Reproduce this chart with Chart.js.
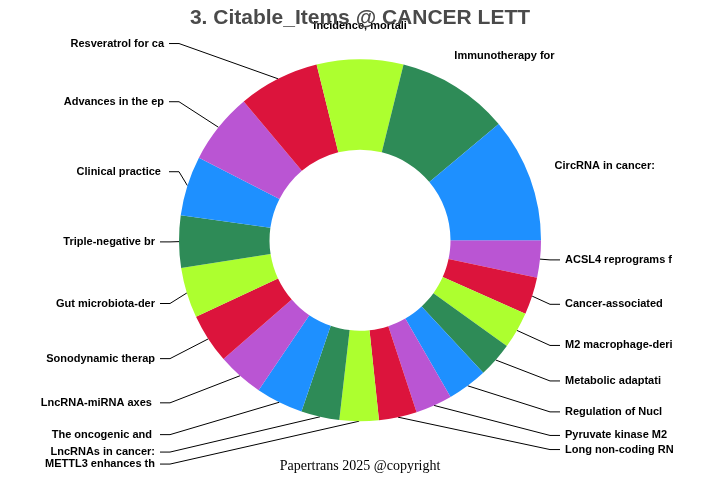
<!DOCTYPE html>
<html>
<head>
<meta charset="utf-8">
<script src="https://cdn.jsdelivr.net/npm/chart.js@4.4.1/dist/chart.umd.min.js"></script>
<style>
    html, body { margin: 0; padding: 0; background: #ffffff; }
    #wrap { width: 720px; height: 480px; }
</style>
</head>
<body>
<div id="wrap"><canvas id="chart"></canvas></div>
<script>
// paper titles (cut to 18 chars, as in the chart), biggest first
let paper_titles = [
    'CircRNA in cancer:', 'Immunotherapy for ', 'Incidence, mortali', 'Resveratrol for ca',
    'Advances in the ep', 'Clinical practice ', 'Triple-negative br', 'Gut microbiota-der',
    'Sonodynamic therap', 'LncRNA-miRNA axes ', 'The oncogenic and ', 'LncRNAs in cancer:',
    'METTL3 enhances th', 'Long non-coding RN', 'Pyruvate kinase M2', 'Regulation of Nucl',
    'Metabolic adaptati', 'M2 macrophage-deri', 'Cancer-associated ', 'ACSL4 reprograms f'
]
let citable_items = [
    40.0, 36.1, 27.8, 26.1,
    22.9, 19.2, 16.8, 16.2,
    16.0, 14.9, 15.2, 12.3,
    12.6, 12.2, 11.8, 12.9,
    11.3, 11.8, 12.0, 12.0
]
let palette = ['#1E90FF', '#2E8B57', '#ADFF2F', '#DC143C', '#BA55D3']

let chart_title = '3. Citable_Items @ CANCER LETT'
let footer_text = 'Papertrans 2025 @copyright'

// slices run counter-clockwise from 3 o'clock in the original,
// chart.js goes clockwise, so feed them in reverse
let slice_colors = paper_titles.map((t, i) => palette[i % palette.length])
let chart_labels = paper_titles.slice().reverse()
let chart_values = citable_items.slice().reverse()
let chart_colors = slice_colors.slice().reverse()

const labelFont = 'bold 11px "Liberation Sans", Arial, sans-serif'

// drawn in beforeDraw so the title ends up on top of the 12 o'clock label
const leaderLabels = {
    id: 'leaderLabels',
    beforeDraw(chart) {
        const ctx = chart.ctx;
        const meta = chart.getDatasetMeta(0);
        let left = [], right = [], free = [];
        meta.data.forEach((arc, i) => {
            const p = arc.getProps(['x', 'y', 'startAngle', 'endAngle', 'outerRadius'], true);
            const mid = (p.startAngle + p.endAngle) / 2;
            const cos = Math.cos(mid), sin = Math.sin(mid);
            const item = {
                text: chart.data.labels[i],
                cx: p.x, r: p.outerRadius, sin: sin,
                ex: p.x + p.outerRadius * cos,
                ey: p.y + p.outerRadius * sin,
                lx: p.x + 1.2 * p.outerRadius * cos,
                ly: p.y + 1.2 * p.outerRadius * sin
            };
            if (sin < 0 && Math.abs(cos) < 0.05) {
                // the one at 12 o'clock
                item.align = 'center';
                item.ly += 3;
                free.push(item);
            } else if (cos > 0 && sin < 0) {
                // upper right ones sit without a leader line
                item.align = 'left';
                item.lx = p.x + 1.35 * p.outerRadius * cos - 35;
                free.push(item);
            } else if (cos > 0) {
                item.ly -= 3;
                right.push(item);
            } else {
                if (sin < -0.2) item.ly -= 3;
                left.push(item);
            }
        });

        // keep labels from running into each other
        [left, right].forEach(side => {
            side.sort((a, b) => a.ly - b.ly);
            for (let k = 1; k < side.length; k++) {
                if (side[k].ly < side[k - 1].ly + 12) side[k].ly = side[k - 1].ly + 12;
            }
        });

        ctx.save();
        ctx.font = labelFont;
        ctx.fillStyle = '#000000';
        ctx.strokeStyle = '#000000';
        ctx.lineWidth = 1;
        ctx.textBaseline = 'middle';

        right.forEach(it => {
            ctx.beginPath();
            ctx.moveTo(it.ex, it.ey);
            ctx.lineTo(it.cx + it.r + 9, it.ly);
            ctx.lineTo(it.cx + it.r + 19, it.ly);
            ctx.stroke();
            ctx.textAlign = 'left';
            ctx.fillText(it.text, it.cx + it.r + 24, it.ly);
        });
        left.forEach(it => {
            // the upper left labels sit a bit further in
            const sh = it.sin < -0.2 ? 9 : 0;
            ctx.beginPath();
            ctx.moveTo(it.ex, it.ey);
            ctx.lineTo(it.cx - it.r - 9 + sh, it.ly);
            ctx.lineTo(it.cx - it.r - 19 + sh, it.ly);
            ctx.stroke();
            ctx.textAlign = 'right';
            ctx.fillText(it.text, it.cx - it.r - 24 + sh, it.ly);
        });
        free.forEach(it => {
            ctx.textAlign = it.align;
            ctx.fillText(it.text, it.lx, it.ly);
        });
        ctx.restore();
    }
};

const config = {
    type: 'doughnut',
    data: {
        labels: chart_labels,
        datasets: [{
            data: chart_values,
            backgroundColor: chart_colors,
            borderWidth: 0,
            hoverOffset: 0,
            offset: 0
        }]
    },
    options: {
        responsive: true,
        maintainAspectRatio: false,
        animation: false,
        devicePixelRatio: 1,
        rotation: 90,
        cutout: '50%',
        plugins: {
            legend: { display: false },
            tooltip: { enabled: false },
            title: {
                display: true,
                text: chart_title,
                color: '#4a4a4a',
                font: { family: '"Liberation Sans", Arial, sans-serif', size: 21, weight: 'bold' },
                padding: { top: 6, bottom: 28 }
            },
            subtitle: {
                display: true,
                position: 'bottom',
                text: footer_text,
                color: '#000000',
                font: { family: '"Liberation Serif", "Times New Roman", serif', size: 14, weight: 'normal' },
                padding: { top: 37, bottom: 5 }
            }
        }
    },
    plugins: [leaderLabels]
};

let myChart = new Chart(document.getElementById('chart'), config);
</script>
</body>
</html>
